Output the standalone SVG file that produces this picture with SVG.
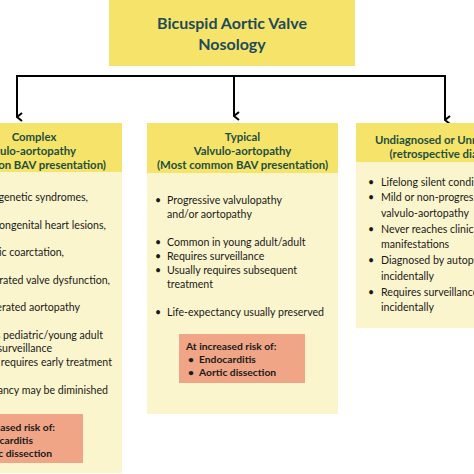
<svg xmlns="http://www.w3.org/2000/svg" width="474" height="474" viewBox="0 0 474 474">
<defs>
<style>
.title{font-family:Lato,"Liberation Sans",sans-serif;font-weight:bold;font-size:16px;fill:#1e4a5a;text-anchor:middle}
.hdr{font-family:Lato,"Liberation Sans",sans-serif;font-weight:bold;font-size:11.4px;fill:#1f4f3f}
.mid{text-anchor:middle}
.end{text-anchor:end}
.body{font-family:Lato,"Liberation Sans",sans-serif;font-size:10.6px;fill:#1a1a1a}
.risk{font-family:Lato,"Liberation Sans",sans-serif;font-weight:bold;font-size:10.3px;fill:#1a1a1a}
.band{fill:#f6e46a}
.panel{fill:#fbf5cd}
.alert{fill:#f0a587}
.conn{fill:none;stroke:#000;stroke-width:2}
</style>
<marker id="arr" viewBox="0 0 10 10" refX="5" refY="9" markerWidth="10" markerHeight="10" markerUnits="userSpaceOnUse" orient="auto-start-reverse">
<path d="M1,4 L5,9 L9,4" fill="none" stroke="#000" stroke-width="2"/>
</marker>
</defs>
<rect width="474" height="474" fill="#fff"/>

<g id="title">
<rect x="109" y="0" width="246" height="66" class="band"/>
<text x="232" y="29" class="title">Bicuspid Aortic Valve</text>
<text x="232" y="50" class="title">Nosology</text>
</g>

<g id="connectors">
<path class="conn" d="M17,76 H445"/>
<path class="conn" d="M17,75 V117" marker-end="url(#arr)"/>
<path class="conn" d="M234,76 V116" marker-end="url(#arr)"/>
<path class="conn" d="M445,75 V120" marker-end="url(#arr)"/>
</g>

<g id="complex">
<rect x="-60" y="123" width="182" height="350" class="panel"/>
<rect x="-60" y="123" width="182" height="49" class="band"/>
<text x="34" y="141" class="hdr mid">Complex</text>
<text x="76" y="155" class="hdr end">Valvulo-aortopathy</text>
<text x="106" y="169" class="hdr end">(Uncommon BAV presentation)</text>
<g class="body">
<text x="88" y="201" class="end">Associated genetic syndromes,</text>
<text x="106" y="229" class="end">Complex congenital heart lesions,</text>
<text x="64" y="256" class="end">Aortic coarctation,</text>
<text x="110" y="284" class="end">Accelerated valve dysfunction,</text>
<text x="80" y="311" class="end">Accelerated aortopathy</text>
<text x="103" y="339" class="end">Requires pediatric/young adult</text>
<text x="52" y="352" class="end">surveillance</text>
<text x="112" y="366" class="end">Often requires early treatment</text>
<text x="108" y="394" class="end">Life-expectancy may be diminished</text>
</g>
<rect x="-60" y="414" width="143" height="49" class="alert"/>
<text x="55" y="431" class="risk end">At increased risk of:</text>
<text x="33" y="444" class="risk end">Endocarditis</text>
<text x="52" y="457" class="risk end">Aortic dissection</text>
</g>

<g id="typical">
<rect x="147" y="123" width="191" height="291" class="panel"/>
<rect x="147" y="123" width="191" height="50" class="band"/>
<text x="242.5" y="141" class="hdr mid">Typical</text>
<text x="242.5" y="155" class="hdr mid">Valvulo-aortopathy</text>
<text x="242.5" y="169" class="hdr mid">(Most common BAV presentation)</text>
<g class="body">
<text x="155" y="204">•</text><text x="167" y="204">Progressive valvulopathy</text>
<text x="167" y="218">and/or aortopathy</text>
<text x="155" y="246">•</text><text x="167" y="246">Common in young adult/adult</text>
<text x="155" y="260">•</text><text x="167" y="260">Requires surveillance</text>
<text x="155" y="274">•</text><text x="167" y="274">Usually requires subsequent</text>
<text x="167" y="288">treatment</text>
<text x="155" y="316">•</text><text x="167" y="316">Life-expectancy usually preserved</text>
</g>
<rect x="179" y="334" width="126" height="49" class="alert"/>
<text x="186" y="350" class="risk">At increased risk of:</text>
<text x="188" y="363" class="risk">•</text><text x="199" y="363" class="risk">Endocarditis</text>
<text x="188" y="376" class="risk">•</text><text x="199" y="376" class="risk">Aortic dissection</text>
</g>

<g id="undiagnosed">
<rect x="356" y="123" width="191" height="205" class="panel"/>
<rect x="356" y="123" width="191" height="39" class="band"/>
<text x="451" y="144" class="hdr mid">Undiagnosed or Unrecognized</text>
<text x="451" y="157.5" class="hdr mid">(retrospective diagnosis)</text>
<g class="body">
<text x="368" y="186">•</text><text x="381" y="186">Lifelong silent condition</text>
<text x="368" y="201">•</text><text x="381" y="201">Mild or non-progressive</text>
<text x="381" y="217">valvulo-aortopathy</text>
<text x="368" y="233">•</text><text x="381" y="233">Never reaches clinical</text>
<text x="381" y="248">manifestations</text>
<text x="368" y="264">•</text><text x="381" y="264">Diagnosed by autopsy or</text>
<text x="381" y="280">incidentally</text>
<text x="368" y="296">•</text><text x="381" y="296">Requires surveillance if found</text>
<text x="381" y="311">incidentally</text>
</g>
</g>
</svg>
